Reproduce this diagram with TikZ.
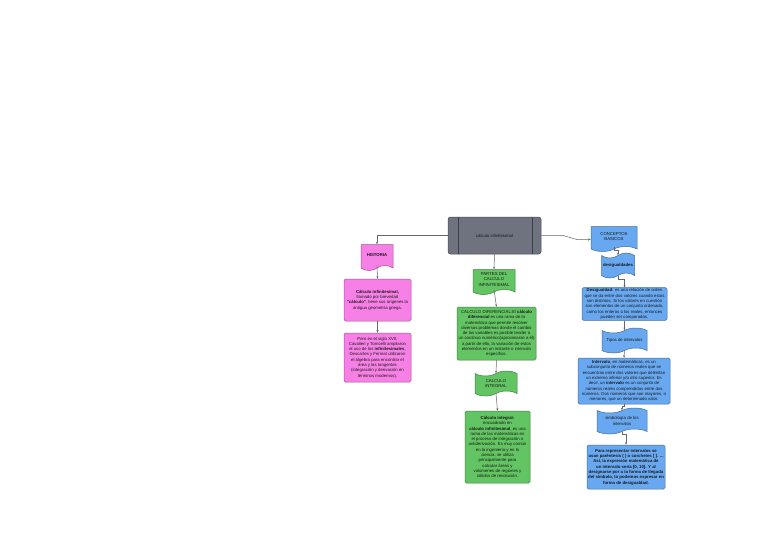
\documentclass[tikz,border=0pt]{standalone}
\usepackage{fontspec}
\setmainfont{Liberation Sans}
\usetikzlibrary{shapes.symbols,arrows.meta}

\begin{document}
\begin{tikzpicture}[
        x=1pt,
        y=-1pt,
        txt/.style={
            align=center,
            inner sep=1pt,
            text=black!90,
            font=\fontsize{4.3}{5.3}\selectfont
          },
        box/.style={
            txt,
            rectangle,
            rounded corners=1.5pt,
            fill=#1,
            draw=#1!65!black,
            line width=0.5pt
          },
        docbox/.style={
            box=#1,
            tape,
            rounded corners=0pt,
            tape bend top=none,
            tape bend height=5pt
          },
        tapebox/.style={
            box=#1,
            tape,
            rounded corners=0pt,
            tape bend height=5pt
          },
        link/.style={
            draw=black!60,
            line width=0.5pt,
            -{Stealth[length=2.5pt,width=2pt]}
          }]
        % Define colors
        \definecolor{mainfill}{RGB}{110,115,127}  % gray
        \definecolor{histfill}{RGB}{247,128,230}  % pink
        \definecolor{partfill}{RGB}{98,196,98}    % green
        \definecolor{concfill}{RGB}{104,168,240}  % blue

        % Draw background
        \useasboundingbox[fill=white] (0,0) rectangle (768,539);

        % Draw main node
        \node[box=mainfill, rounded corners=2.5pt, minimum width=93pt, minimum height=37pt] (calc) at (494.5,235.5) {cálculo infinitesimal};
        \draw[mainfill!55!black, line width=0.5pt] ([xshift=10pt]calc.north west) -- ([xshift=10pt]calc.south west);
        \draw[mainfill!55!black, line width=0.5pt] ([xshift=-9pt]calc.north east) -- ([xshift=-9pt]calc.south east);

        % Draw left column
        \node[docbox=histfill, minimum width=32pt, minimum height=26pt] (hist) at (377,255) {\textbf{HISTORIA}};
        \node[box=histfill, minimum width=67pt, minimum height=42pt] (orig) at (377.5,300) {\textbf{Cálculo infinitesimal,}\\ llamado por brevedad\\ \textbf{"cálculo"}, tiene sus orígenes la\\ antigua geometría griega.};
        \node[box=histfill, minimum width=67pt, minimum height=49pt] (siglo) at (377.5,357.5) {Pero en el siglo XVII,\\ Cavalieri y Torricelli ampliaron\\ el uso de los \textbf{infinitesimales},\\ Descartes y Fermat utilizaron\\ el álgebra para encontrar el\\ área y las tangentes\\ (integración y derivación en\\ términos modernos).};

        % Draw middle column
        \node[docbox=partfill, minimum width=42pt, minimum height=25pt] (partes) at (494,279.5) {PARTES DEL\\ CALCULO\\ INFINITESIMAL};
        \node[box=partfill, minimum width=79pt, minimum height=53pt] (dif) at (496.5,333.5) {CALCULO DIFERENCIAL:El \textbf{cálculo}\\ \textbf{diferencial} es una rama de la\\ matemática que permite resolver\\ diversos problemas donde el cambio\\ de las variables es posible tender a\\ un continuo numérico(aproximarse a él)\\ a partir de ello, la variación de estos\\ elementos en un instante o intervalo\\ específico.};
        \node[tapebox=partfill, minimum width=42pt, minimum height=25pt] (integ) at (496,383.5) {CALCULO\\ INTEGRAL};
        \node[box=partfill, minimum width=65pt, minimum height=72pt] (ci) at (497.5,447) {\textbf{Cálculo integral:}\\ encuadrado en\\ \textbf{cálculo infinitesimal}, es una\\ rama de las matemáticas en\\ el proceso de integración o\\ antiderivación. Es muy común\\ en la ingeniería y en la\\ ciencia, se utiliza\\ principalmente para\\ calcular áreas y\\ volúmenes de regiones y\\ sólidos de revolución.};

        % Draw right column
        \node[docbox=concfill, minimum width=46pt, minimum height=25pt] (conc) at (614,236.5) {CONCEPTOS\\ BASICOS};
        \node[tapebox=concfill, minimum width=33pt, minimum height=25pt] (desig) at (618,265.5) {\textbf{desigualdades}};
        \node[box=concfill, minimum width=85pt, minimum height=32pt] (desdef) at (624.5,304) {\textbf{Desigualdad}: es una relación de orden\\ que se da entre dos valores cuando estos\\ son distintos. Si los valores en cuestión\\ son elementos de un conjunto ordenado,\\ como los enteros o los reales, entonces\\ pueden ser comparados.};
        \node[tapebox=concfill, minimum width=45pt, minimum height=25pt] (tipos) at (624.5,340.5) {Tipos de intervalos};
        \node[box=concfill, minimum width=92pt, minimum height=46pt] (intdef) at (624,381) {\textbf{Intervalo}, en matemáticas, es un\\ subconjunto de números reales que se\\ encuentran entre dos valores que delimitan\\ un extremo inferior y/o otro superior. Es\\ decir, un \textbf{intervalo} es un conjunto de\\ números reales comprendidos entre dos\\ números. Dos números que son mayores, o\\ menores, que un determinado valor.};
        \node[tapebox=concfill, minimum width=50pt, minimum height=26pt] (simb) at (622,421) {simbología de los\\ intervalos};
        \node[box=concfill, minimum width=78pt, minimum height=44pt] (simbdef) at (626,467) {\textbf{Para representar intervalos se}\\ \textbf{usan paréntesis ( ) o corchetes [ ]. ...}\\ \textbf{Así, la expresión matemática de}\\ \textbf{un intervalo sería [0, 10]. Y al}\\ \textbf{designarse por a la forma de llegada}\\ \textbf{del símbolo, lo podemos expresar en}\\ \textbf{forma de desigualdad.}};

        % Draw connectors
        \draw[link] (calc.west) -| (hist.north);
        \draw[link] (hist.south) -- (orig.north);
        \draw[link] (orig.south) -- (siglo.north);
        \draw[link] (calc.south) -- (partes.north);
        \draw[link] (partes.south) -- (dif.north);
        \draw[link] (dif.south) -- (integ.north);
        \draw[link] (integ.south) -- (ci.north);
        \draw[link] (calc.east) -- ++(22,0) -- ([xshift=-14pt,yshift=-3pt]conc.west) -- ([yshift=-3pt]conc.west);
        \draw[link] (conc.south) -- ++(0,3) -| (desig.north);
        \draw[link] (desig.south) -- ++(0,3) -| (desdef.north);
        \draw[link] (desdef.south) -- (tipos.north);
        \draw[link] (tipos.south) -- (intdef.north);
        \draw[link] (intdef.south) -- ++(0,2) -| (simb.north);
        \draw[link] (simb.south) -- ++(0,3) -| (simbdef.north);
    \end{tikzpicture}
\end{document}
